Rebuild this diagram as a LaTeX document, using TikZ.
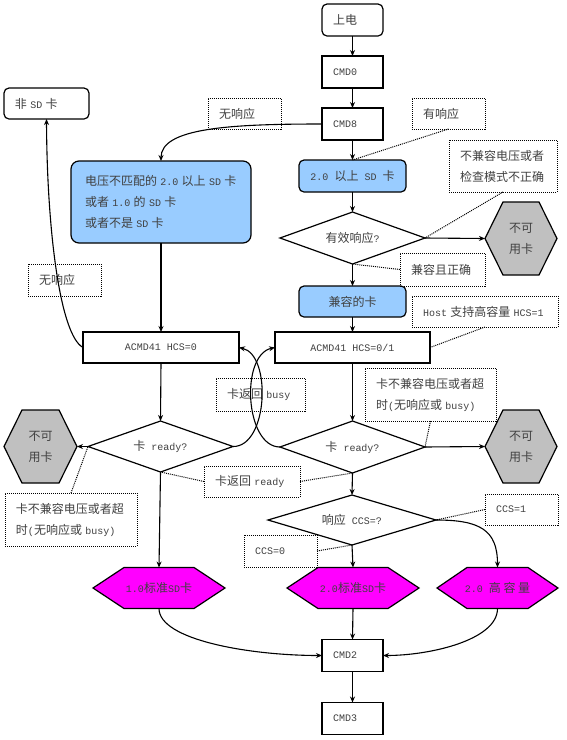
\documentclass[tikz,border=0pt]{standalone}
\usepackage{fontspec}
\setmainfont{Liberation Mono}
\newfontfamily\cjk[Scale=1.2]{Noto Sans CJK SC}
\usetikzlibrary{shapes.geometric,arrows.meta,calc}
\pgfdeclarelayer{bg}\pgfsetlayers{bg,main}
\definecolor{lb}{HTML}{99CCFF}
\definecolor{gr}{HTML}{C0C0C0}
\definecolor{mg}{HTML}{FF00FF}
\definecolor{tc}{HTML}{404040}
\newcommand\zh[1]{{\cjk #1}}
\newcommand\hexfill[3]{%
  \begin{pgfonlayer}{bg}
  \filldraw[fill=#3, draw=black, line width=1.2pt]
    (#1.west) -- ([xshift=#2]#1.north west) -- ([xshift=-#2]#1.north east)
    -- (#1.east) -- ([xshift=-#2]#1.south east) -- ([xshift=#2]#1.south west) -- cycle;
  \end{pgfonlayer}}
\begin{document}
\begin{tikzpicture}[x=1pt,y=-1pt,
  base/.style={text=tc, font=\fontsize{10}{21}\selectfont, inner sep=0pt, outer sep=0pt},
  box/.style={base, draw, line width=1.2pt, fill=white},
  lbox/.style={box, align=left, inner xsep=11pt, minimum height=32pt},
  blue/.style={box, fill=lb, rounded corners=5pt},
  dec/.style={base, draw, line width=1.2pt, diamond, aspect=2.8, fill=white},
  note/.style={base, draw, line width=1pt, dash pattern=on 1pt off 1pt, align=left, inner xsep=11pt},
  hexn/.style={base, rectangle, align=center},
  arr/.style={draw, line width=1.1pt, -{Stealth[length=6pt,width=5pt,inset=2pt]}},
  dot/.style={draw, line width=1pt, dash pattern=on 1pt off 1pt}]
\useasboundingbox (0,0) rectangle (566,740);

% main column
\node[lbox, rounded corners=5pt, text width=39pt] (pwr) at (352.5,20) {\zh{上电}};
\node[lbox, text width=39pt] (cmd0) at (352.5,72) {CMD0};
\node[lbox, text width=39pt] (cmd8) at (352.5,124) {CMD8};
\node[blue, minimum width=107pt, minimum height=32pt] (v2) at (352.5,176) {2.0 \zh{以上} SD \zh{卡}};
\node[dec, minimum width=145pt, minimum height=52pt] (resp) at (352.5,238) {\zh{有效响应}?};
\node[hexn, minimum width=72pt, minimum height=73pt] (nu1) at (521,238.5) {\zh{不可}\\\zh{用卡}};
\hexfill{nu1}{18pt}{gr}
\node[blue, minimum width=107pt, minimum height=31pt] (comp) at (352.5,301.5) {\zh{兼容的卡}};
\node[box, minimum width=155pt, minimum height=31pt] (acmdB) at (352.5,347.5) {ACMD41 HCS=0/1};
\node[dec, minimum width=145pt, minimum height=52pt] (rdyB) at (352.5,447) {\zh{卡} ready?};
\node[hexn, minimum width=72pt, minimum height=73pt] (nu3) at (521,446.5) {\zh{不可}\\\zh{用卡}};
\hexfill{nu3}{18pt}{gr}
\node[dec, minimum width=168pt, minimum height=50pt] (ccs) at (352,520) {\zh{响应} CCS=?};

% left column
\node[lbox, rounded corners=5pt, text width=63pt, minimum height=31pt] (nonsd) at (46.5,103.5) {\zh{非} SD \zh{卡}};
\node[blue, rounded corners=8pt, minimum width=180pt, minimum height=82pt, align=left, text width=152pt, inner xsep=14pt] (bigblue) at (161,202)
  {\zh{电压不匹配的} 2.0 \zh{以上} SD \zh{卡}\\\zh{或者} 1.0 \zh{的} SD \zh{卡}\\\zh{或者不是} SD \zh{卡}};
\node[box, minimum width=156pt, minimum height=31pt] (acmdA) at (161,347.5) {ACMD41 HCS=0};
\node[dec, minimum width=145pt, minimum height=51pt] (rdyA) at (160.5,446.5) {\zh{卡} ready?};
\node[hexn, minimum width=73pt, minimum height=73pt] (nu2) at (40.5,446.5) {\zh{不可}\\\zh{用卡}};
\hexfill{nu2}{18pt}{gr}

% result hexagons
\node[hexn, minimum width=132pt, minimum height=41pt] (h1) at (159,588) {1.0\zh{标准}SD\zh{卡}};
\hexfill{h1}{31pt}{mg}
\node[hexn, minimum width=132pt, minimum height=41pt] (h2) at (353,588) {2.0\zh{标准}SD\zh{卡}};
\hexfill{h2}{31pt}{mg}
\node[hexn, minimum width=121pt, minimum height=41pt] (h3) at (497.5,588) {2.0 \zh{高 容 量}};
\hexfill{h3}{30pt}{mg}
\node[lbox, text width=39pt] (cmd2) at (352.5,655.5) {CMD2};
\node[lbox, text width=39pt] (cmd3) at (352.5,718.5) {CMD3};

% notes
\node[note, text width=51pt, minimum height=31pt] (n1) at (244.5,113.5) {\zh{无响应}};
\node[note, text width=51pt, minimum height=31pt] (n2) at (448.5,113.5) {\zh{有响应}};
\node[note, text width=86pt, minimum height=52pt] (n3) at (503,166) {\zh{不兼容电压或者}\\\zh{检查模式不正确}};
\node[note, text width=63pt, minimum height=33pt] (n4) at (442.5,269.5) {\zh{兼容且正确}};
\node[note, text width=124pt, minimum height=31pt] (n5) at (485,311.5) {\mbox{Host \zh{支持高容量} HCS=1}};
\node[note, text width=51pt, minimum height=32pt] (n6) at (64.5,280) {\zh{无响应}};
\node[note, text width=67pt, minimum height=33pt] (n7) at (260.5,394.5) {\mbox{\zh{卡返回} busy}};
\node[note, text width=109pt, minimum height=53pt] (n8) at (430.5,394.5) {\zh{卡不兼容电压或者超}\\\zh{时}(\zh{无响应或} busy)};
\node[note, text width=74pt, minimum height=31pt] (n9) at (252,481.5) {\mbox{\zh{卡返回} ready}};
\node[note, text width=110pt, minimum height=53pt] (n10) at (71,519.5) {\zh{卡不兼容电压或者超}\\\zh{时}(\zh{无响应或} busy)};
\node[note, text width=51pt, minimum height=31pt] (n11) at (521.5,509.5) {CCS=1};
\node[note, text width=51pt, minimum height=32pt] (n12) at (280.5,551) {CCS=0};

% straight arrows
\draw[arr] (pwr.south) -- (cmd0.north);
\draw[arr] (cmd0.south) -- (cmd8.north);
\draw[arr] (cmd8.south) -- (v2.north);
\draw[arr] (v2.south) -- (resp.north);
\draw[arr] (resp.east) -- (nu1.west);
\draw[arr] (resp.south) -- (comp.north);
\draw[arr] (comp.south) -- (acmdB.north);
\draw[arr] (acmdB.south) -- (rdyB.north);
\draw[arr] (rdyB.east) -- (nu3.west);
\draw[arr] (rdyB.south) -- (ccs.north);
\draw[arr] (ccs.south) -- (h2.north);
\draw[arr] (h2.south) -- (cmd2.north);
\draw[arr] (cmd2.south) -- (cmd3.north);
\draw[arr] (bigblue.south) -- (acmdA.north);
\draw[arr] (acmdA.south) -- (rdyA.north);
\draw[arr] (rdyA.west) -- (nu2.east);
\draw[arr] (rdyA.south) -- (h1.north);

% curved arrows
\draw[arr] (cmd8.west) .. controls (230,124) and (161,128) .. (bigblue.north);
\draw[arr] (acmdA.west) .. controls (60,335) and (47,230) .. (nonsd.south);
\draw[arr] (rdyA.east) .. controls (268,447) and (272,355) .. (acmdA.east);
\draw[arr] (rdyB.west) .. controls (245,447) and (240,355) .. (acmdB.west);
\draw[arr] (ccs.east) .. controls (480,520) and (497.5,530) .. (h3.north);
\draw[arr] (h1.south) .. controls (159,640) and (250,655.5) .. (cmd2.west);
\draw[arr] (h3.south) .. controls (497.5,640) and (430,655.5) .. (cmd2.east);

% dotted connectors
\draw[dot] (n2.south) -- (v2.north);
\draw[dot] (n3.south) -- (resp.east);
\draw[dot] (n4.west) -- (resp.south);
\draw[dot] (n5.south) -- (acmdB.east);
\draw[dot] (n8.south) -- (rdyB.east);
\draw[dot] (n9.west) -- (rdyA.south);
\draw[dot] (n9.east) -- (rdyB.south);
\draw[dot] (n10.north) -- (rdyA.west);
\draw[dot] (n11.west) -- (ccs.east);
\draw[dot] (n12.east) -- (ccs.south);
\end{tikzpicture}
\end{document}
